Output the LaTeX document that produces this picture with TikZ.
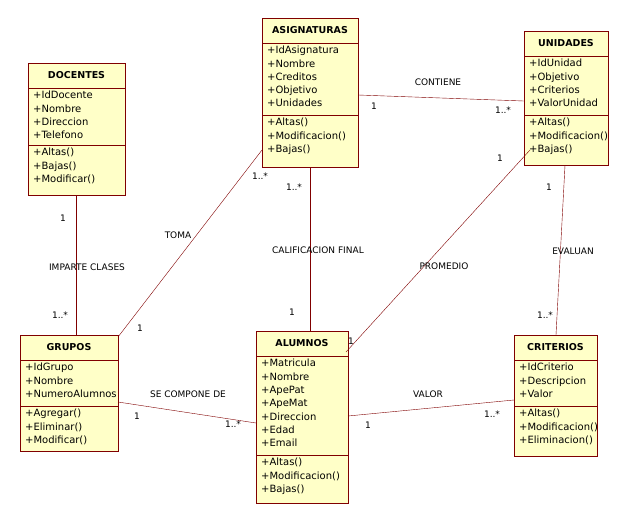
\documentclass[tikz,border=0pt]{standalone}
\usepackage{fontspec}
\setmainfont{DejaVu Sans}
\usetikzlibrary{fit}
\definecolor{clsfill}{HTML}{FFFFC8}
\definecolor{clsline}{HTML}{800000}
\tikzset{
  cls/.style={draw=clsline,fill=clsfill,inner sep=0pt},
  ttl/.style={font=\fontsize{9.5}{11}\selectfont\bfseries},
  txt/.style={font=\fontsize{10}{13.3}\selectfont,align=left,inner sep=0pt,anchor=north west},
  rel/.style={draw=clsline},
  lbl/.style={font=\fontsize{9}{10}\selectfont,inner sep=1pt}
}
% name, x1, y1, x2, y2, y of operations, title, attributes, operations
\newcommand\umlclass[9]{%
  \node[cls,fit={(#2,#3) (#4,#5)}] (#1) {};
  \draw[clsline] (#2,{#3+25}) -- (#4,{#3+25});
  \draw[clsline] (#2,#6) -- (#4,#6);
  \node[ttl] at ({(#2+#4)/2},{#3+12.5}) {#7};
  \node[txt] at ({#2+5},{#3+28}) {#8};
  \node[txt] at ({#2+5},{#6+3}) {#9};
}
\begin{document}
\begin{tikzpicture}[x=1pt,y=-1pt]
\useasboundingbox (0,0) rectangle (629,524);

\umlclass{doc}{28}{63}{125}{195}{145}{DOCENTES}{+IdDocente\\+Nombre\\+Direccion\\+Telefono}{+Altas()\\+Bajas()\\+Modificar()}
\umlclass{asig}{262}{18}{358}{167}{115}{ASIGNATURAS}{+IdAsignatura\\+Nombre\\+Creditos\\+Objetivo\\+Unidades}{+Altas()\\+Modificacion()\\+Bajas()}
\umlclass{unid}{524}{31}{608}{165}{115}{UNIDADES}{+IdUnidad\\+Objetivo\\+Criterios\\+ValorUnidad}{+Altas()\\+Modificacion()\\+Bajas()}
\umlclass{grp}{20}{335}{118}{451}{406}{GRUPOS}{+IdGrupo\\+Nombre\\+NumeroAlumnos}{+Agregar()\\+Eliminar()\\+Modificar()}
\umlclass{alum}{256}{331}{348}{503}{455}{ALUMNOS}{+Matricula\\+Nombre\\+ApePat\\+ApeMat\\+Direccion\\+Edad\\+Email}{+Altas()\\+Modificacion()\\+Bajas()}
\umlclass{crit}{514}{335}{597}{456}{406}{CRITERIOS}{+IdCriterio\\+Descripcion\\+Valor}{+Altas()\\+Modificacion()\\+Eliminacion()}

\coordinate (asigT) at (262,150);
\coordinate (grpT) at (118,337);
\coordinate (unidA) at (530,150);
\coordinate (alumP) at (346,352);
\coordinate (grpS) at (118,402);
\coordinate (alumS) at (256,423);
\coordinate (alumV) at (348,416);
\coordinate (critV) at (514,400);

\draw[rel] (doc.south) -- (grp.north -| doc.south);
\draw[rel] (asigT) -- (grpT);
\draw[rel] (asig.south) -- (alum.north -| asig.south);
\draw[rel] (asig.east |- 0,95) -- (unid.west |- 0,101);
\draw[rel] (unidA) -- (alumP);
\draw[rel] (unid.south -| 565,0) -- (crit.north -| 556,0);
\draw[rel] (grpS) -- (alumS);
\draw[rel] (alumV) -- (critV);

\node[lbl] at (63,218) {1};
\node[lbl] at (60,315) {1..*};
\node[lbl] at (87,267) {IMPARTE CLASES};
\node[lbl] at (260,176) {1..*};
\node[lbl] at (140,328) {1};
\node[lbl] at (178,235) {TOMA};
\node[lbl] at (294,187) {1..*};
\node[lbl] at (292,312) {1};
\node[lbl] at (318,250) {CALIFICACION FINAL};
\node[lbl] at (374,106) {1};
\node[lbl] at (503,110) {1..*};
\node[lbl] at (438,82) {CONTIENE};
\node[lbl] at (500,158) {1};
\node[lbl] at (351,341) {1};
\node[lbl] at (444,266) {PROMEDIO};
\node[lbl] at (549,187) {1};
\node[lbl] at (545,315) {1..*};
\node[lbl] at (573,251) {EVALUAN};
\node[lbl] at (137,416) {1};
\node[lbl] at (233,424) {1..*};
\node[lbl] at (188,394) {SE COMPONE DE};
\node[lbl] at (368,425) {1};
\node[lbl] at (492,414) {1..*};
\node[lbl] at (428,394) {VALOR};
\end{tikzpicture}
\end{document}
